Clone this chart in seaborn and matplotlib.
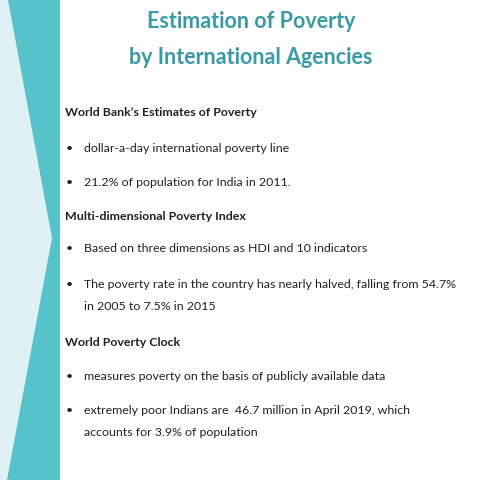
import matplotlib
matplotlib.use("Agg")
import matplotlib.pyplot as plt
import seaborn as sns
from matplotlib.patches import Polygon

sns.set_style("white")
plt.rcParams['font.family'] = ['Lato', 'DejaVu Sans']

title_lines = ["Estimation of Poverty", "by International Agencies"]
headings = ["World Bank\u2019s Estimates of Poverty",
            "Multi-dimensional Poverty Index",
            "World Poverty Clock"]
bullets = [
    [["dollar-a-day international poverty line"],
     ["21.2% of population for India in 2011."]],
    [["Based on three dimensions as HDI and 10 indicators"],
     ["The poverty rate in the country has nearly halved, falling from 54.7%",
      "in 2005 to 7.5% in 2015"]],
    [["measures poverty on the basis of publicly available data"],
     ["extremely poor Indians are  46.7 million in April 2019, which",
      "accounts for 3.9% of population"]],
]
heading_y = [113, 216, 342]
bullet_y = [[148, 182], [249, 285], [377, 411]]

fig = plt.figure(figsize=(4.8, 4.8), dpi=100)
ax = fig.add_axes([0, 0, 1, 1])
ax.set_xlim(0, 480)
ax.set_ylim(480, 0)
ax.axis("off")

# left decoration
ax.add_patch(Polygon([(0, 0), (60, 0), (60, 480), (0, 480)], color="#55c3c9", lw=0))
ax.add_patch(Polygon([(0, 0), (8, 0), (52, 238), (7, 480), (0, 480)], color="#dff1f4", lw=0))

for i, t in enumerate(title_lines):
    ax.text(251, 22 + i * 35, t, ha="center", va="center", fontsize=15.5,
            fontweight="bold", color="#3a9aa6")

body = dict(ha="left", va="center", fontsize=8.9, color="#222222")
for h, hy, bl, bys in zip(headings, heading_y, bullets, bullet_y):
    ax.text(65, hy, h, fontweight="bold", **body)
    for lines, by in zip(bl, bys):
        ax.text(66, by, "\u2022", **body)
        for k, line in enumerate(lines):
            ax.text(84, by + k * 22, line, **body)

fig.savefig("out.png", dpi=100)
